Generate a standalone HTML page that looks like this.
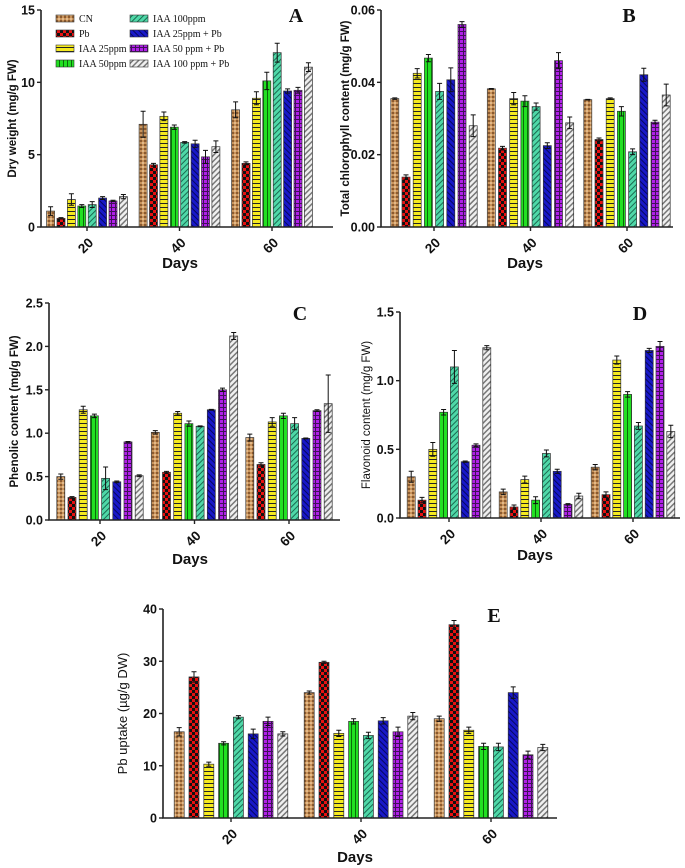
<!DOCTYPE html>
<html><head><meta charset="utf-8"><style>
body{margin:0;background:#fff;}
svg{display:block;}
.tk{font-family:"Liberation Sans",sans-serif;font-weight:bold;font-size:12.5px;fill:#111;}
.ttl{font-family:"Liberation Sans",sans-serif;font-weight:bold;font-size:11.5px;fill:#111;}
.days{font-family:"Liberation Sans",sans-serif;font-weight:bold;font-size:15px;fill:#111;}
.pl{font-family:"Liberation Serif",serif;font-weight:bold;font-size:20px;fill:#111;}
.lg{font-family:"Liberation Serif",serif;font-size:10px;fill:#111;}
</style></head><body>
<svg id="fig" width="685" height="868" viewBox="0 0 685 868" xmlns="http://www.w3.org/2000/svg">
<defs>
<pattern id="p0" width="4" height="4" patternUnits="userSpaceOnUse"><rect width="4" height="4" fill="#c9935a"/><rect width="2" height="2" fill="#8a5a30"/><rect x="2" y="2" width="2" height="2" fill="#e2b98a"/></pattern>
<pattern id="p1" width="6" height="6" patternUnits="userSpaceOnUse"><rect width="6" height="6" fill="#e81010"/><rect width="3" height="3" fill="#111"/><rect x="3" y="3" width="3" height="3" fill="#111"/></pattern>
<pattern id="p2" width="4" height="4" patternUnits="userSpaceOnUse"><rect width="4" height="4" fill="#f5ea20"/><rect y="3" width="4" height="1" fill="#222"/></pattern>
<pattern id="p3" width="4" height="4" patternUnits="userSpaceOnUse"><rect width="4" height="4" fill="#22e022"/><rect x="3" width="1" height="4" fill="#0a6a0a"/></pattern>
<pattern id="p4" width="4" height="4" patternUnits="userSpaceOnUse" patternTransform="rotate(45)"><rect width="4" height="4" fill="#4fd8a8"/><rect width="1" height="4" fill="#1a6a50"/></pattern>
<pattern id="p5" width="4" height="4" patternUnits="userSpaceOnUse" patternTransform="rotate(-45)"><rect width="4" height="4" fill="#1818c8"/><rect width="1" height="4" fill="#060660"/></pattern>
<pattern id="p6" width="4" height="4" patternUnits="userSpaceOnUse"><rect width="4" height="4" fill="#b020e8"/><rect y="3" width="4" height="1" fill="#40105a"/><rect x="3" width="1" height="4" fill="#40105a"/></pattern>
<pattern id="p7" width="4" height="4" patternUnits="userSpaceOnUse" patternTransform="rotate(45)"><rect width="4" height="4" fill="#f0f0f0"/><rect width="1.5" height="4" fill="#777"/></pattern>
</defs>
</svg>
<script>
const categories=["20","40","60"];
const seriesNames=["CN","Pb","IAA 25ppm","IAA 50ppm","IAA 100ppm","IAA 25ppm + Pb","IAA 50 ppm + Pb","IAA 100 ppm + Pb"];
const dataA=[[1.1,0.6,1.9,1.45,1.55,2.0,1.8,2.1],[7.1,4.3,7.65,6.9,5.85,5.75,4.85,5.55],[8.1,4.4,8.9,10.1,12.05,9.4,9.45,11.05]];
const errA=[[0.3,0.05,0.4,0.1,0.2,0.1,0.05,0.15],[0.9,0.1,0.3,0.15,0.05,0.25,0.45,0.4],[0.55,0.1,0.45,0.6,0.65,0.15,0.2,0.3]];
const ticksA=[0,5,10,15];
const dataB=[[0.0355,0.0138,0.0425,0.0467,0.0375,0.0407,0.056,0.028],[0.0382,0.0218,0.0355,0.0348,0.0333,0.0225,0.046,0.0288],[0.0352,0.0242,0.0355,0.032,0.0208,0.0421,0.029,0.0365]];
const errB=[[0.0002,0.0006,0.0013,0.001,0.0022,0.0033,0.0008,0.003],[0.0001,0.0005,0.0017,0.0015,0.001,0.0008,0.0022,0.0016],[0.0001,0.0004,0.0002,0.0013,0.0008,0.0018,0.0005,0.003]];
const ticksB=[0,0.02,0.04,0.06];
const dataC=[[0.5,0.26,1.27,1.2,0.48,0.44,0.9,0.51],[1.01,0.55,1.23,1.11,1.08,1.27,1.5,2.12],[0.95,0.64,1.13,1.2,1.11,0.94,1.26,1.34]];
const errC=[[0.03,0.01,0.04,0.02,0.13,0.01,0.005,0.01],[0.02,0.01,0.02,0.03,0.005,0.005,0.02,0.04],[0.04,0.02,0.05,0.03,0.07,0.005,0.01,0.33]];
const ticksC=[0,0.5,1.0,1.5,2.0,2.5];
const dataD=[[0.3,0.13,0.5,0.77,1.1,0.41,0.53,1.24],[0.19,0.08,0.28,0.13,0.47,0.34,0.1,0.16],[0.37,0.17,1.15,0.9,0.67,1.22,1.25,0.63]];
const errD=[[0.04,0.02,0.05,0.02,0.12,0.005,0.01,0.015],[0.02,0.015,0.025,0.025,0.025,0.015,0.005,0.02],[0.02,0.02,0.03,0.02,0.025,0.015,0.035,0.045]];
const ticksD=[0,0.5,1.0,1.5];
const dataE=[[16.5,27,10.3,14.3,19.3,16.1,18.5,16.1],[24,29.8,16.2,18.5,15.8,18.6,16.5,19.5],[19,37,16.8,13.7,13.6,24,12.1,13.5]];
const errE=[[0.8,1.0,0.4,0.3,0.3,0.9,0.8,0.4],[0.3,0.2,0.6,0.5,0.6,0.6,0.9,0.7],[0.5,0.8,0.6,0.6,0.7,1.1,0.7,0.6]];
const ticksE=[0,10,20,30,40];

const NS="http://www.w3.org/2000/svg";
const svg=document.getElementById('fig');
function mk(tag,attrs,parent,txt){const e=document.createElementNS(NS,tag);for(const k in attrs)e.setAttribute(k,attrs[k]);if(txt!==undefined)e.textContent=txt;(parent||svg).appendChild(e);return e;}

function panel(cfg,data,err,ticks){
  const g=mk('g',{});
  
  
  const ymax=ticks[ticks.length-1];
  const yS=v=>cfg.y0-(v/ymax)*(cfg.y0-cfg.y1);
  const xC=i=>cfg.c0+i*cfg.sp;
  data.forEach((grp,gi)=>{
    grp.forEach((v,si)=>{
      const cx=xC(gi)+(si-3.5)*cfg.step;
      const r=mk('rect',{x:cx-cfg.bw/2,y:yS(v),width:cfg.bw,height:cfg.y0-yS(v),fill:'url(#p'+si+')',stroke:'#333','stroke-width':0.7},g);
      
      
      const e=err[gi][si];
      const eb=mk('path',{d:`M${cx},${yS(v+e)}V${yS(Math.max(0,v-e))}M${cx-2.5},${yS(v+e)}H${cx+2.5}M${cx-2.5},${yS(v-e)}H${cx+2.5}`,stroke:'#111','stroke-width':1,fill:'none'},g);
      
      
    });
  });
  const ax=mk('path',{d:`M${cfg.x0},${cfg.y1}V${cfg.y0}H${cfg.x1}`,stroke:'#222','stroke-width':1.6,fill:'none'},g);
  
  
  ticks.forEach(t=>{
    const y=yS(t);
    mk('line',{x1:cfg.x0-4,x2:cfg.x0,y1:y,y2:y,stroke:'#222','stroke-width':1.4},g);
    const tl=mk('text',{x:cfg.x0-6,y:y+4.5,'text-anchor':'end',class:'tk'},g,cfg.fmt(t));
    
    
  });
  categories.forEach((c,i)=>{
    const x=xC(i);
    mk('line',{x1:x,x2:x,y1:cfg.y0,y2:cfg.y0+4,stroke:'#222','stroke-width':1.4},g);
    const tl=mk('text',{x:x-1,y:cfg.y0+23,'text-anchor':'middle',class:'tk',transform:`rotate(-45 ${x-1} ${cfg.y0+19})`,style:'font-size:13.5px'},g,c);
    
    
  });
  const d=mk('text',{x:cfg.daysX,y:cfg.daysY,'text-anchor':'middle',class:'days'},g,'Days');
  
  
  const ty=(cfg.y0+cfg.y1)/2;
  const yt=mk('text',{x:cfg.ttlX,y:ty,'text-anchor':'middle',class:'ttl',transform:`rotate(-90 ${cfg.ttlX} ${ty})`,style:cfg.ttlStyle||''},g,cfg.title);
  
  
  const pl=mk('text',{x:cfg.lx,y:cfg.ly,'text-anchor':'middle',class:'pl'},g,cfg.id);
  
  
}
const f1=t=>t.toFixed(1), f0=t=>String(t), f2=t=>t.toFixed(2);
panel({id:'A',x0:41,x1:333,y0:227,y1:10,c0:87,sp:92.5,step:10.4,bw:8,fmt:f0,daysX:180,daysY:268,ttlX:16,title:'Dry weight (mg/g FW)',lx:296,ly:22},dataA,errA,ticksA);
panel({id:'B',x0:381,x1:673,y0:227,y1:10,c0:434,sp:96.5,step:11.2,bw:8,fmt:f2,daysX:525,daysY:268,ttlX:349,title:'Total chlorophyll content (mg/g FW)',lx:629,ly:22},dataB,errB,ticksB);
panel({id:'C',x0:49,x1:340,y0:520,y1:303,c0:100,sp:94.5,step:11.2,bw:8,fmt:f1,daysX:190,daysY:564,ttlX:18,title:'Phenolic content (mg/g FW)',lx:300,ly:320},dataC,errC,ticksC);
panel({id:'D',x0:400,x1:680,y0:518,y1:312,c0:449,sp:92,step:10.8,bw:8,fmt:f1,daysX:535,daysY:560,ttlX:370,title:'Flavonoid content (mg/g FW)',ttlStyle:'font-weight:normal',lx:640,ly:320},dataD,errD,ticksD);
panel({id:'E',x0:163,x1:557,y0:818,y1:609,c0:231,sp:130,step:14.8,bw:10,fmt:f0,daysX:355,daysY:862,ttlX:127,title:'Pb uptake (µg/g DW)',ttlStyle:'font-weight:normal;font-size:13px',lx:494,ly:622},dataE,errE,ticksE);
const lg=mk('g',{});


seriesNames.forEach((n,i)=>{
  const col=i<4?0:1, row=i%4;
  const x=col?130:56, y=15+row*15;
  const it=mk('g',{},lg);
  
  
  mk('rect',{x:x,y:y,width:18,height:7,fill:'url(#p'+i+')',stroke:'#333','stroke-width':0.6},it);
  mk('text',{x:x+23,y:y+7,class:'lg'},it,n);
});
</script>
</body></html>
